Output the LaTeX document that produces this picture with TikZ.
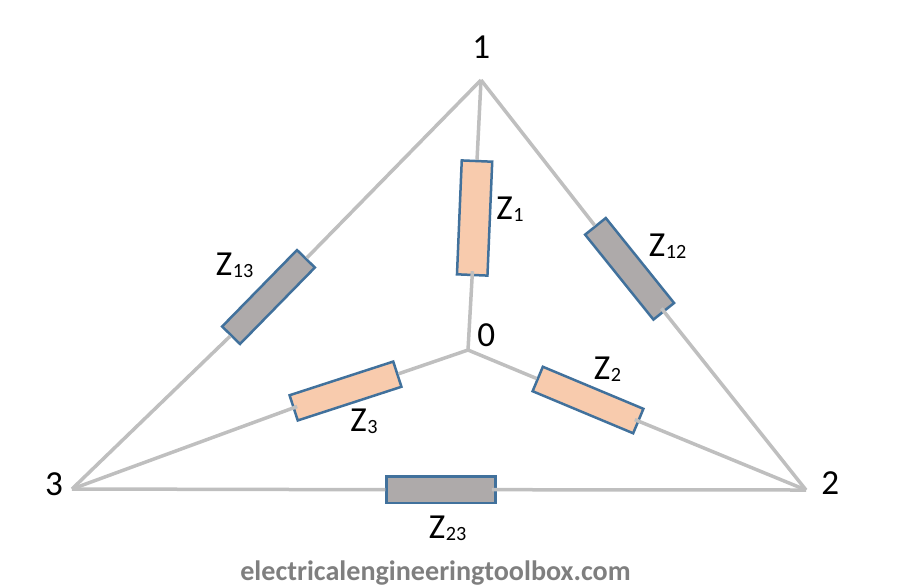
\documentclass[tikz,border=0pt]{standalone}
\usepackage{fontspec}
\setmainfont{Carlito}
\definecolor{wirecolor}{HTML}{BFBFBF}
\definecolor{boxborder}{HTML}{41719C}
\definecolor{starfill}{HTML}{F8CBAD}
\definecolor{deltafill}{HTML}{AEAAAA}
\definecolor{sitecolor}{HTML}{7F7F7F}
\newcommand{\zname}[1]{Z\kern0.3pt\raisebox{-1.5pt}{\fontsize{11.5}{12}\selectfont #1}}

\begin{document}
\begin{tikzpicture}[x=0.2mm, y=-0.2mm]

\tikzstyle{title}=[anchor=base west, inner sep=0pt, font=\fontsize{20}{24}\selectfont]
\tikzstyle{impedance}=[rectangle, draw=boxborder, line width=0.5mm, minimum width=21.8mm, minimum height=5.3mm, inner sep=0pt]
\tikzstyle{color1}=[fill=starfill]
\tikzstyle{color2}=[fill=deltafill]
\tikzstyle{edge1}=[draw=wirecolor, line width=0.7mm]
\tikzstyle{edge2}=[shorten >=-1mm]

\useasboundingbox (0, 0) rectangle (922, 586);

\coordinate (vertex0) at (468, 350);
\coordinate (vertex1) at (481, 80);
\coordinate (vertex2) at (806, 490);
\coordinate (vertex3) at (72, 489);

\node[impedance, color1, rotate=87.6, minimum width=22.8mm, minimum height=6.1mm] (z1) at (474.6, 218) {};
\node[impedance, color1, rotate=-22.7] (z2) at (588, 400) {};
\node[impedance, color1, rotate=18] (z3) at (345.5, 391) {};
\node[impedance, color2, rotate=-51.2] (z12) at (629.6, 268.8) {};
\node[impedance, color2, rotate=45.6, minimum width=21.4mm, minimum height=5mm] (z13) at (268.5, 297) {};
\node[impedance, color2] (z23) at (441, 489.7) {};

\draw[edge1] (vertex1) -- (z1.east);
\draw[edge1, edge2] (vertex0) -- (z1.west);
\draw[edge1] (vertex0) -- (z2.west);
\draw[edge1, edge2] (vertex2) -- (z2.east);
\draw[edge1] (vertex0) -- (z3.east);
\draw[edge1, edge2] (vertex3) -- (z3.west);
\draw[edge1] (vertex1) -- (z12.west);
\draw[edge1, edge2] (vertex2) -- (z12.east);
\draw[edge1] (vertex1) -- (z13.east);
\draw[edge1] (vertex3) -- (z13.west);
\draw[edge1] (vertex3) -- (z23.west);
\draw[edge1, edge2] (vertex2) -- (z23.east);

\node[title] (label0) at (477, 346) {0};
\node[title] (label1) at (472, 58) {1};
\node[title] (label2) at (821, 494) {2};
\node[title] (label3) at (44.7, 495) {3};

\node[title] (labelz1) at (496, 219) {\zname{1}};
\node[title] (labelz2) at (593.5, 379) {\zname{2}};
\node[title] (labelz3) at (350, 431) {\zname{3}};
\node[title] (labelz12) at (648.5, 256) {\zname{12}};
\node[title] (labelz13) at (215.5, 275) {\zname{13}};
\node[title] (labelz23) at (428.5, 538) {\zname{23}};

\node[inner sep=0pt, anchor=base, text=sitecolor, font=\fontsize{16}{18}\selectfont\bfseries] (site) at (435.5, 580) {electricalengineeringtoolbox.com};

\end{tikzpicture}
\end{document}
